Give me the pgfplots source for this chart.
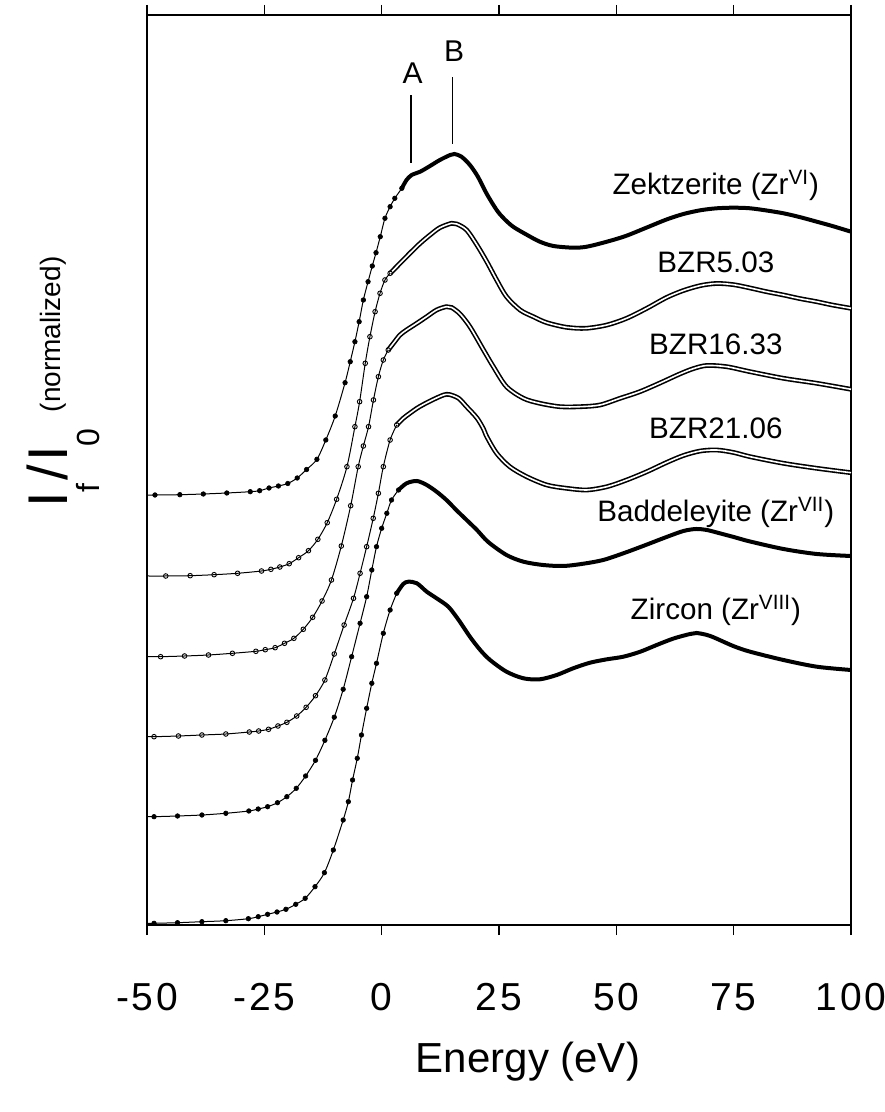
\documentclass[border=0pt]{standalone}
\usepackage{fontspec}
\setmainfont{Liberation Sans}
\newfontfamily\tickfont[LetterSpace=7]{Liberation Sans}
\usepackage{pgfplots}
\pgfplotsset{compat=1.18}
\usepackage{pgfplotstable}

% Zr K-edge XANES, stacked spectra (energy relative to edge, offset intensity)
\pgfplotstableread{
E y
-50 430
-48.3 430
-43 430.3
-38 431
-33 432
-28 433.3
-26 434.3
-24 437
-22 439
-20 441.5
-18 447
-16 455.5
-13.8 465.7
-11.9 485
-9.9 509
-7.8 542.3
-6.7 563.3
-5.7 583.3
-4.8 603.3
-3.9 625
-2.9 643.3
-2.0 659
-1.2 672.3
-0.3 688.3
0.7 706.7
1.8 718.3
2.8 726.7
4.3 736.7
5.3 745
6.4 750
8.2 753.3
10.3 759
12.4 765
14.6 770
15.5 771
17.0 768.3
18.8 760
20.5 748.3
22.4 731
24.5 715
26.0 706.7
28.0 698.3
31.0 690
33.7 683.3
36.6 679
40.8 677.3
43.7 678.3
48.0 683.3
52.0 689
56.5 697.5
60.7 705.5
64.3 711
68.0 714.8
71.4 716.7
75.0 717.3
78.5 716.7
82.0 714.5
85.6 711.7
89.0 708
92.7 703.3
96.0 699
100 693.3
}\zektzerite

\pgfplotstableread{
E y
-50 349
-46 349
-40.8 349.3
-35.7 350.3
-30.7 351.7
-25.6 354
-23.6 355.7
-21.7 358
-19.7 361.3
-17.7 367.3
-15.6 374.3
-13.6 385.7
-11.6 402.3
-9.6 425.7
-7.4 458.3
-5.7 498.3
-4.7 523.3
-3.5 561.7
-2.5 588.3
-1.4 613.3
-0.35 631.7
0.7 645
1.8 651.7
3.2 658.3
4.6 665
6.0 671.7
8.2 681.7
10.3 690
12.4 697.3
14.9 701.7
16.0 701
18.1 695
20.3 680
22.4 663.3
24.5 645
26.6 628.3
29.5 615
32.3 608.3
35.2 602.3
39.4 597.7
43.5 596.7
48.0 600
52.2 606.7
56.5 616.7
60.7 627.5
64.3 634.5
68.0 639.5
71.4 641.5
75.0 640.3
78.5 637
82.0 633.3
85.6 630
89.0 626.5
92.7 623.3
96.0 620
100 616.7
}\bzrA

\pgfplotstableread{
E y
-50 268.3
-47.1 268.3
-42 269
-36.9 270
-31.8 271.7
-26.8 273.7
-24.8 275.3
-22.7 277.3
-20.7 281.7
-18.7 286.7
-16.7 295.7
-14.7 307.7
-12.7 324
-10.7 345
-8.6 379
-6.6 419.3
-5.0 458.3
-3.9 479
-2.8 498.3
-1.75 525
-0.7 548.3
0.35 565
1.4 575
2.5 581.7
3.9 590
5.3 595
7.5 601.7
9.6 608.3
11.7 615
13.8 618.3
14.9 617.5
16.7 611
18.8 598.3
21.7 575
23.8 558.3
26.6 538.3
30.2 526.7
33.7 521.7
38.0 518.3
42.3 518.3
46.5 520
50.8 526.7
55.0 533.3
59.3 542
63.5 551
66.5 556.5
69.3 559.5
73.5 558.3
78.5 553.3
85.6 546.7
92.7 541.7
100 535.7
}\bzrB

\pgfplotstableread{
E y
-50 188.3
-48.5 188.3
-43.3 189
-38.3 190
-33.2 191
-28.2 193
-26.2 194
-24.1 195.7
-22.1 199
-20.2 202.7
-18.1 209
-16.1 217.7
-14.1 229.3
-12.1 245
-10.1 271
-8.0 300
-6.0 326.7
-4.6 351.7
-3.2 378.3
-1.8 406.7
-0.7 431.7
0.35 458.3
1.8 485
3.2 500
4.6 506.7
6.0 511.7
7.5 516.7
8.9 520.5
11.0 525.5
13.2 530
14.4 530.5
16.4 526.7
18.1 518.3
20.3 507
21.7 496
22.4 488.3
24.5 471.7
27.3 458.3
30.9 448.3
35.2 440
39.4 436.7
43.7 435
48.0 438.3
52.2 445
56.5 453.3
60.7 462.5
64.3 469.5
67.9 474
71.4 475
75.0 472.5
78.5 468.3
85.6 461.7
92.7 456.7
100 452.3
}\bzrC

\pgfplotstableread{
E y
-50 108.3
-48.5 108.3
-43.5 109
-38.3 110
-33.2 111.7
-28.3 114
-26.3 116
-24.3 118.3
-22.2 122.3
-20.2 128.3
-18.2 136.7
-16.2 149
-14.1 164.7
-12.1 184.7
-10.1 207.8
-8.2 235.7
-6.4 268.3
-4.6 301.7
-3.2 328.3
-2.1 355
-1.1 378.3
0.0 396.7
1.1 411.7
2.1 425
3.6 435
5.3 441.7
7.5 444
9.6 440
11.7 433.3
13.8 425
16.0 414.5
18.1 405
20.3 395
22.7 383
26.6 370
30.2 363.3
34.4 360
38.7 359
43.0 361.3
47.2 365
51.5 371.7
55.7 379
60.7 388
64.3 394
67.0 396
69.3 395
71.4 392.5
75.0 388
78.5 383.5
85.6 376
92.7 371
100 369
}\baddeleyite

\pgfplotstableread{
E y
-50 1.7
-48.5 1.7
-43.5 2.3
-38.3 3.3
-33.2 4.3
-28.4 6.3
-26.3 8.3
-24.3 10.7
-22.3 13
-20.4 15.7
-18.3 20.7
-16.3 26.7
-14.2 38.3
-12.2 52.3
-10.3 75
-8.2 105
-7.1 123.3
-6.2 145
-5.2 166.7
-4.3 190
-3.2 216.7
-2.1 241.7
-1.1 261.7
0.35 291.7
1.8 315
3.2 331.7
4.6 341
5.7 343.3
7.5 341.7
9.6 333.3
11.7 326.7
14.2 318.3
16.4 305
18.8 288.3
21.0 275
23.1 265
26.6 253.3
30.2 246.7
33.7 245.7
37.3 250
40.8 256.7
44.4 262.3
48.0 265.7
51.5 268.3
55.1 273.3
58.6 280
62.2 286.5
65.7 291
67.1 292
70.0 289
74.9 279
78.5 273.3
85.6 265
92.7 258.3
100 255
}\zircon

\pgfplotsset{
  edgefilled/.style={black, line width=0.5pt, smooth, mark=*, mark size=1.15pt,
    mark phase=2, mark repeat=1, mark options={solid, fill=black, line width=0.3pt}},
  edgeopen/.style={black, line width=0.5pt, smooth, mark=o, mark size=1.15pt,
    mark phase=2, mark repeat=1, mark options={solid, fill=white, line width=0.45pt}},
  densefilled/.style={black, line width=2pt, smooth, no marks},
  denseopen/.style={black, line width=0.8pt, double=white, double distance=0.8pt, smooth, no marks},
}

\begin{document}
\begin{tikzpicture}
\useasboundingbox (-73.5pt,-93.5pt) rectangle (368.5pt,462.5pt);
\begin{axis}[
  scale only axis, width=352pt, height=455pt,
  xmin=-50, xmax=100, ymin=0, ymax=910,
  xtick={-50,-25,0,25,50,75,100},
  xticklabels={-50,-25,0,25,50,75,100},
  ytick=\empty,
  xtick pos=both, tick align=outside,
  major tick length=5pt,
  every tick/.style={black, line width=0.8pt},
  axis line style={line width=1.3pt},
  xticklabel style={font=\tickfont\fontsize{19.5}{21}\selectfont, anchor=base, yshift=-37.5pt},
]
% rising edge: sparse points, thin line with markers; above the edge: dense trace
\addplot[densefilled, restrict x to domain=4.3:100] table[x=E,y=y] {\zektzerite};
\addplot[edgefilled,  restrict x to domain=-50:4.3] table[x=E,y=y] {\zektzerite};
\addplot[denseopen,   restrict x to domain=1.8:100] table[x=E,y=y] {\bzrA};
\addplot[edgeopen,    restrict x to domain=-50:1.8] table[x=E,y=y] {\bzrA};
\addplot[denseopen,   restrict x to domain=1.4:100] table[x=E,y=y] {\bzrB};
\addplot[edgeopen,    restrict x to domain=-50:1.4] table[x=E,y=y] {\bzrB};
\addplot[denseopen,   restrict x to domain=3.2:100] table[x=E,y=y] {\bzrC};
\addplot[edgeopen,    restrict x to domain=-50:3.2] table[x=E,y=y] {\bzrC};
\addplot[densefilled, restrict x to domain=3.6:100] table[x=E,y=y] {\baddeleyite};
\addplot[edgefilled,  restrict x to domain=-50:3.6] table[x=E,y=y] {\baddeleyite};
\addplot[densefilled, restrict x to domain=3.2:100] table[x=E,y=y] {\zircon};
\addplot[edgefilled,  restrict x to domain=-50:3.2] table[x=E,y=y] {\zircon};

% features A and B
\draw[line width=0.8pt] (axis cs:6.25,762) -- (axis cs:6.25,830);
\draw[line width=0.8pt] (axis cs:15.06,781) -- (axis cs:15.06,848.3);
\node[anchor=base, inner sep=0pt, font=\fontsize{15}{17}\selectfont] at (axis cs:6.62,841) {A};
\node[anchor=base, inner sep=0pt, font=\fontsize{15}{17}\selectfont] at (axis cs:15.42,863.3) {B};

% sample names
\begin{scope}[every node/.style={anchor=base, inner sep=0pt, font=\fontsize{14.8}{17}\selectfont}]
\node at (axis cs:71.2,730)   {Zektzerite (Zr\textsuperscript{VI})};
\node at (axis cs:71.2,652.3) {BZR5.03};
\node at (axis cs:71.2,570)   {BZR16.33};
\node at (axis cs:71.2,486.7) {BZR21.06};
\node at (axis cs:71.2,403.3) {Baddeleyite (Zr\textsuperscript{VII})};
\node at (axis cs:71.2,305)   {Zircon (Zr\textsuperscript{VIII})};
\end{scope}
\end{axis}

% axis titles
\node[anchor=center, inner sep=0pt, font=\fontsize{21}{23}\selectfont] at (190.5pt,-68.5pt) {Energy (eV)};
\node[rotate=90, anchor=base west, inner sep=0pt] at (-39.5pt,208.5pt)
  {\fontsize{28}{30}\selectfont I\raisebox{-16pt}{\fontsize{16}{18}\selectfont f}\hspace{1.5pt}/\hspace{1.5pt}I\raisebox{-16pt}{\fontsize{16}{18}\selectfont 0}\hspace{8pt}\raisebox{3.5pt}{\fontsize{14}{16}\selectfont (normalized)}};
\end{tikzpicture}
\end{document}
